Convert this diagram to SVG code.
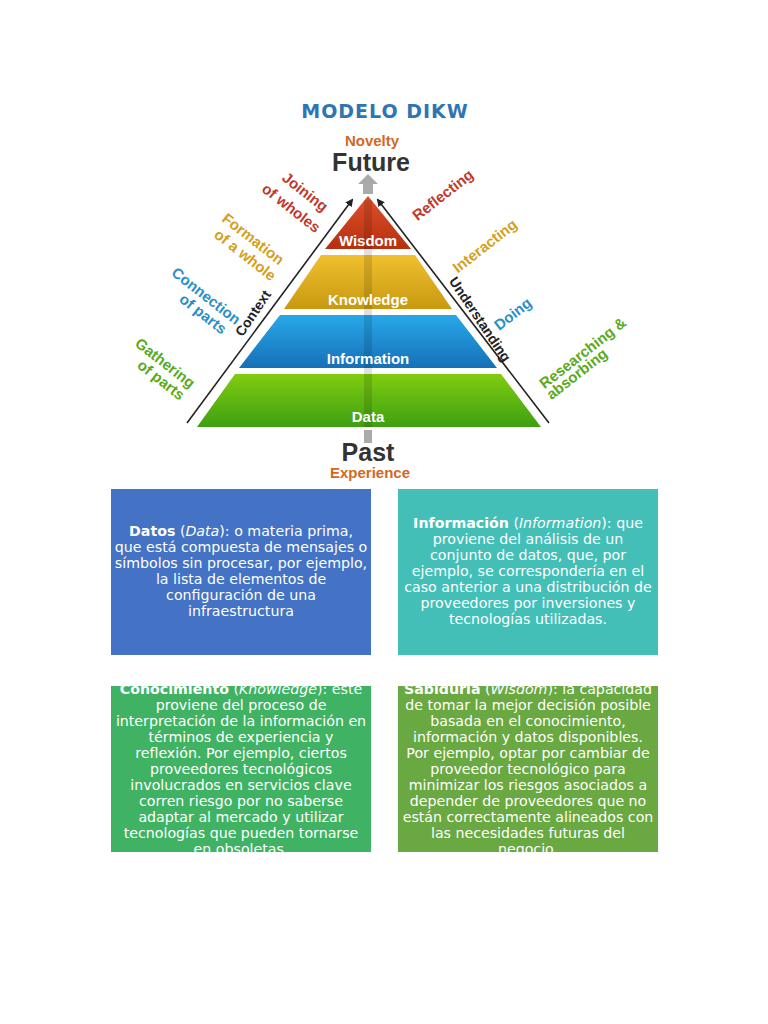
<svg xmlns="http://www.w3.org/2000/svg" width="768" height="1024" viewBox="0 0 768 1024">
<defs>
<style>
.t{font-family:"DejaVu Sans",sans-serif;font-size:14.2px;fill:#fff;text-anchor:middle}
.b{font-weight:bold}
.p{font-family:"Liberation Sans",Arial,sans-serif;font-weight:bold;text-anchor:middle}
.l{font-family:"Liberation Sans",Arial,sans-serif;font-weight:bold;font-size:15px;text-anchor:middle}
.ttl{font-family:"DejaVu Sans",sans-serif;font-weight:bold;font-size:19px;letter-spacing:1px;fill:#2E75B6;text-anchor:middle}
</style>
<marker id="ah" markerWidth="8" markerHeight="8" refX="6" refY="4" orient="auto" markerUnits="userSpaceOnUse"><path d="M0,0 L8,4 L0,8 Z" fill="#222"/></marker>
<clipPath id="c3"><rect x="111" y="686" width="260" height="166"/></clipPath>
<clipPath id="c4"><rect x="398" y="686" width="260" height="166"/></clipPath>
<linearGradient id="gr" x1="0" y1="0" x2="0" y2="1"><stop offset="0" stop-color="#e0502a"/><stop offset="1" stop-color="#b5300f"/></linearGradient>
<linearGradient id="gy" x1="0" y1="0" x2="0" y2="1"><stop offset="0" stop-color="#f0c030"/><stop offset="1" stop-color="#c89810"/></linearGradient>
<linearGradient id="gb" x1="0" y1="0" x2="0" y2="1"><stop offset="0" stop-color="#28a8e8"/><stop offset="1" stop-color="#1670b8"/></linearGradient>
<linearGradient id="gg" x1="0" y1="0" x2="0" y2="1"><stop offset="0" stop-color="#80cc10"/><stop offset="1" stop-color="#3ea010"/></linearGradient>
</defs>
<rect width="768" height="1024" fill="#fff"/>
<text x="385" y="118" class="ttl">MODELO DIKW</text>
<g id="pyramid">
<polygon points="368,196 411,249 325,249" fill="url(#gr)"/>
<polygon points="321,255 415,255 452,309 284,309" fill="url(#gy)"/>
<polygon points="280,315 456,315 497,368 239,368" fill="url(#gb)"/>
<polygon points="235,374 501,374 541,427 197,427" fill="url(#gg)"/>
<rect x="364" y="200" width="8" height="227" fill="#000" opacity="0.12"/>
<rect x="364" y="430" width="8" height="13" fill="#aaa"/>
<polygon points="363,194 363,184 358,184 368,174 378,184 373,184 373,194" fill="#aaa"/>
<text x="368" y="246" class="l" fill="#fff" font-size="13">Wisdom</text>
<text x="368" y="305" class="l" fill="#fff" font-size="13">Knowledge</text>
<text x="368" y="364" class="l" fill="#fff" font-size="13">Information</text>
<text x="368" y="422" class="l" fill="#fff" font-size="13">Data</text>
<text x="372" y="146" class="l" fill="#d2691e" font-size="13">Novelty</text>
<text x="371" y="171" class="p" font-size="25" fill="#333">Future</text>
<text x="368" y="461" class="p" font-size="25" fill="#333">Past</text>
<text x="370" y="478" class="l" fill="#d2691e" font-size="12">Experience</text>
</g>
<g id="connectors" stroke="#222" stroke-width="1.6" fill="none">
<path d="M187,423 L352,200" marker-end="url(#ah)"/>
<path d="M549,423 L378,200" marker-end="url(#ah)"/>
</g>
<g id="side-labels" class="l">
<text transform="translate(257,316) rotate(-56)" fill="#222" font-size="14">Context</text>
<text transform="translate(476,322) rotate(56)" fill="#222" font-size="14">Understanding</text>
<g fill="#c0392b"><text transform="translate(302,196) rotate(38)">Joining</text><text transform="translate(288,212) rotate(38)">of wholes</text></g>
<g fill="#d4a020"><text transform="translate(250,243) rotate(38)">Formation</text><text transform="translate(242,259) rotate(38)">of a whole</text></g>
<g fill="#2a8fc8"><text transform="translate(203,300) rotate(38)">Connection</text><text transform="translate(200,318) rotate(38)">of parts</text></g>
<g fill="#5aaa20"><text transform="translate(162,367) rotate(38)">Gathering</text><text transform="translate(158,384) rotate(38)">of parts</text></g>
<text transform="translate(446,199) rotate(-38)" fill="#c0392b">Reflecting</text>
<text transform="translate(488,250) rotate(-38)" fill="#d4a020">Interacting</text>
<text transform="translate(516,318) rotate(-38)" fill="#2a8fc8">Doing</text>
<g fill="#5aaa20"><text transform="translate(586,357) rotate(-38)">Researching &amp;</text><text transform="translate(580,378) rotate(-38)">absorbing</text></g>
</g>
<g id="datos">
<rect x="111" y="489" width="260" height="166" fill="#4472C4"/>
<text class="t"><tspan x="241" y="536"><tspan class="b">Datos</tspan> (<tspan font-style="italic">Data</tspan>): o materia prima,</tspan><tspan x="241" y="552">que está compuesta de mensajes o</tspan><tspan x="241" y="568">símbolos sin procesar, por ejemplo,</tspan><tspan x="241" y="584">la lista de elementos de</tspan><tspan x="241" y="600">configuración de una</tspan><tspan x="241" y="616">infraestructura</tspan></text>
</g>
<g id="informacion">
<rect x="398" y="489" width="260" height="166" fill="#43BFB7"/>
<text class="t"><tspan x="528" y="528"><tspan class="b">Información</tspan> (<tspan font-style="italic">Information</tspan>): que</tspan><tspan x="528" y="544">proviene del análisis de un</tspan><tspan x="528" y="560">conjunto de datos, que, por</tspan><tspan x="528" y="576">ejemplo, se correspondería en el</tspan><tspan x="528" y="592">caso anterior a una distribución de</tspan><tspan x="528" y="608">proveedores por inversiones y</tspan><tspan x="528" y="624">tecnologías utilizadas.</tspan></text>
</g>
<g id="conocimiento">
<rect x="111" y="686" width="260" height="166" fill="#3FB363"/>
<text class="t" clip-path="url(#c3)"><tspan x="241" y="694"><tspan class="b">Conocimiento</tspan> (<tspan font-style="italic">Knowledge</tspan>): este</tspan><tspan x="241" y="710">proviene del proceso de</tspan><tspan x="241" y="726">interpretación de la información en</tspan><tspan x="241" y="742">términos de experiencia y</tspan><tspan x="241" y="758">reflexión. Por ejemplo, ciertos</tspan><tspan x="241" y="774">proveedores tecnológicos</tspan><tspan x="241" y="790">involucrados en servicios clave</tspan><tspan x="241" y="806">corren riesgo por no saberse</tspan><tspan x="241" y="822">adaptar al mercado y utilizar</tspan><tspan x="241" y="838">tecnologías que pueden tornarse</tspan><tspan x="241" y="854">en obsoletas.</tspan></text>
</g>
<g id="sabiduria">
<rect x="398" y="686" width="260" height="166" fill="#6AA842"/>
<text class="t" clip-path="url(#c4)"><tspan x="528" y="694"><tspan class="b">Sabiduría</tspan> (<tspan font-style="italic">Wisdom</tspan>): la capacidad</tspan><tspan x="528" y="710">de tomar la mejor decisión posible</tspan><tspan x="528" y="726">basada en el conocimiento,</tspan><tspan x="528" y="742">información y datos disponibles.</tspan><tspan x="528" y="758">Por ejemplo, optar por cambiar de</tspan><tspan x="528" y="774">proveedor tecnológico para</tspan><tspan x="528" y="790">minimizar los riesgos asociados a</tspan><tspan x="528" y="806">depender de proveedores que no</tspan><tspan x="528" y="822">están correctamente alineados con</tspan><tspan x="528" y="838">las necesidades futuras del</tspan><tspan x="528" y="854">negocio.</tspan></text>
</g>
</svg>
